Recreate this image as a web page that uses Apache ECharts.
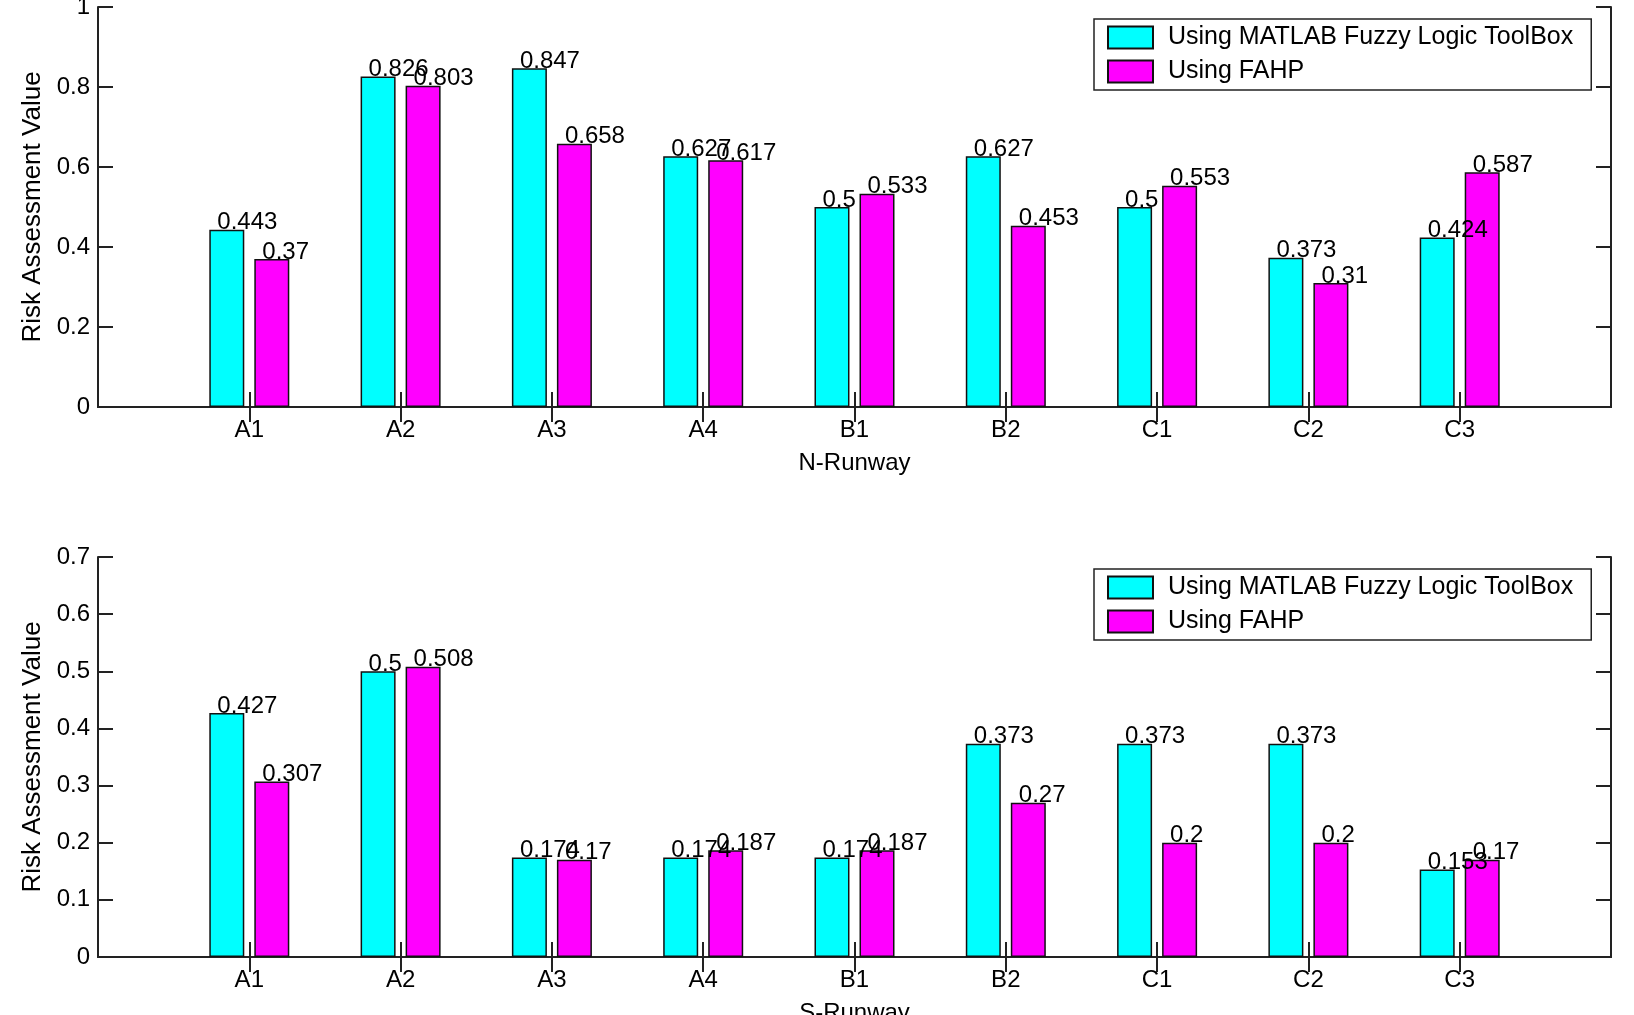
<!DOCTYPE html>
<html>
<head>
<meta charset="utf-8">
<title>Risk Assessment Value</title>
<script src="https://cdn.jsdelivr.net/npm/echarts@6/dist/echarts.min.js"></script>
<style>
  html, body { margin: 0; padding: 0; background: #fff; }
  #chart { width: 1634px; height: 1015px; }
</style>
</head>
<body>
<div id="chart"></div>
<script>
// categories and values
var categories = ['A1', 'A2', 'A3', 'A4', 'B1', 'B2', 'C1', 'C2', 'C3']
var seriesNames = ['Using MATLAB Fuzzy Logic ToolBox', 'Using FAHP']

var nMatlab = [0.443, 0.826, 0.847, 0.627, 0.5, 0.627, 0.5, 0.373, 0.424]
var nFahp = [0.37, 0.803, 0.658, 0.617, 0.533, 0.453, 0.553, 0.31, 0.587]

var sMatlab = [0.427, 0.5, 0.174, 0.174, 0.174, 0.373, 0.373, 0.373, 0.153]
var sFahp = [0.307, 0.508, 0.17, 0.187, 0.187, 0.27, 0.2, 0.2, 0.17]

var nTicks = [0, 0.2, 0.4, 0.6, 0.8, 1]
var sTicks = [0, 0.1, 0.2, 0.3, 0.4, 0.5, 0.6, 0.7]

// blank slot at each end so the categories sit at 1..9 of a 0..10 range
var axisCats = [''].concat(categories, [''])

var FONT = '"Liberation Sans", Arial, sans-serif'
var LINE = '#222'
var colors = ['#00ffff', '#ff00ff']

const catAxis = (gridIndex, position, name) => ({
  type: 'category',
  gridIndex: gridIndex,
  position: position,
  data: axisCats,
  boundaryGap: false,
  name: name || '',
  nameLocation: 'middle',
  nameGap: 44,
  nameTextStyle: { color: '#000', fontSize: 24, fontFamily: FONT },
  axisLine: { show: true, lineStyle: { color: LINE, width: 2 } },
  axisTick: {
    show: true,
    inside: true,
    length: 15,
    interval: (idx, val) => val !== '',
    lineStyle: { color: LINE, width: 2 },
  },
  axisLabel: {
    show: position === 'bottom',
    interval: 0,
    margin: 11,
    color: '#000',
    fontSize: 24,
    fontFamily: FONT,
  },
  splitLine: { show: false },
})

const valAxis = (gridIndex, position, ticks, showName) => ({
  type: 'value',
  gridIndex: gridIndex,
  position: position,
  min: ticks[0],
  max: ticks[ticks.length - 1],
  interval: ticks[1] - ticks[0],
  name: showName ? 'Risk Assessment Value' : '',
  nameLocation: 'middle',
  nameGap: 50,
  nameTextStyle: { color: '#000', fontSize: 26, fontFamily: FONT },
  axisLine: { show: true, lineStyle: { color: LINE, width: 2 } },
  axisTick: { show: true, inside: true, length: 15, lineStyle: { color: LINE, width: 2 } },
  axisLabel: {
    show: position === 'left',
    margin: 8,
    color: '#000',
    fontSize: 24,
    fontFamily: FONT,
    formatter: (v) => String(Math.round(v * 10) / 10),
  },
  splitLine: { show: false },
})

const barSeries = (name, values, axisIndex, color) => ({
  type: 'bar',
  name: name,
  xAxisIndex: axisIndex,
  yAxisIndex: axisIndex,
  data: categories.map((c, i) => [c, values[i]]),
  barWidth: 35,
  barGap: '28.6%',
  itemStyle: { color: color, borderColor: '#111', borderWidth: 1.5 },
  label: {
    show: true,
    position: [8, 5],
    align: 'left',
    verticalAlign: 'bottom',
    color: '#000',
    fontSize: 24,
    fontFamily: FONT,
    formatter: (p) => String(p.value[1]),
  },
  emphasis: { disabled: true },
})

const legendAt = (top) => ({
  data: seriesNames,
  orient: 'vertical',
  left: 1094,
  top: top,
  icon: 'rect',
  itemWidth: 45,
  itemHeight: 22,
  itemGap: 9,
  padding: [6, 18, 6, 13],
  backgroundColor: '#fff',
  borderColor: LINE,
  borderWidth: 1.5,
  borderRadius: 0,
  selectedMode: false,
  textStyle: { color: '#000', fontSize: 25, fontFamily: FONT, padding: [0, 0, 0, 10] },
})

var chart = echarts.init(document.getElementById('chart'), null, { renderer: 'canvas' })

chart.setOption({
  animation: false,
  color: colors,
  legend: [legendAt(19), legendAt(569)],
  grid: [
    { left: 98, right: 23, top: 7, height: 400, outerBoundsMode: 'none' },
    { left: 98, right: 23, top: 557, height: 400, outerBoundsMode: 'none' },
  ],
  xAxis: [
    catAxis(0, 'bottom', 'N-Runway'),
    catAxis(0, 'top'),
    catAxis(1, 'bottom', 'S-Runway'),
    catAxis(1, 'top'),
  ],
  yAxis: [
    valAxis(0, 'left', nTicks, true),
    valAxis(0, 'right', nTicks, false),
    valAxis(1, 'left', sTicks, true),
    valAxis(1, 'right', sTicks, false),
  ],
  series: [
    barSeries(seriesNames[0], nMatlab, 0, colors[0]),
    barSeries(seriesNames[1], nFahp, 0, colors[1]),
    barSeries(seriesNames[0], sMatlab, 2, colors[0]),
    barSeries(seriesNames[1], sFahp, 2, colors[1]),
  ],
})
</script>
</body>
</html>
